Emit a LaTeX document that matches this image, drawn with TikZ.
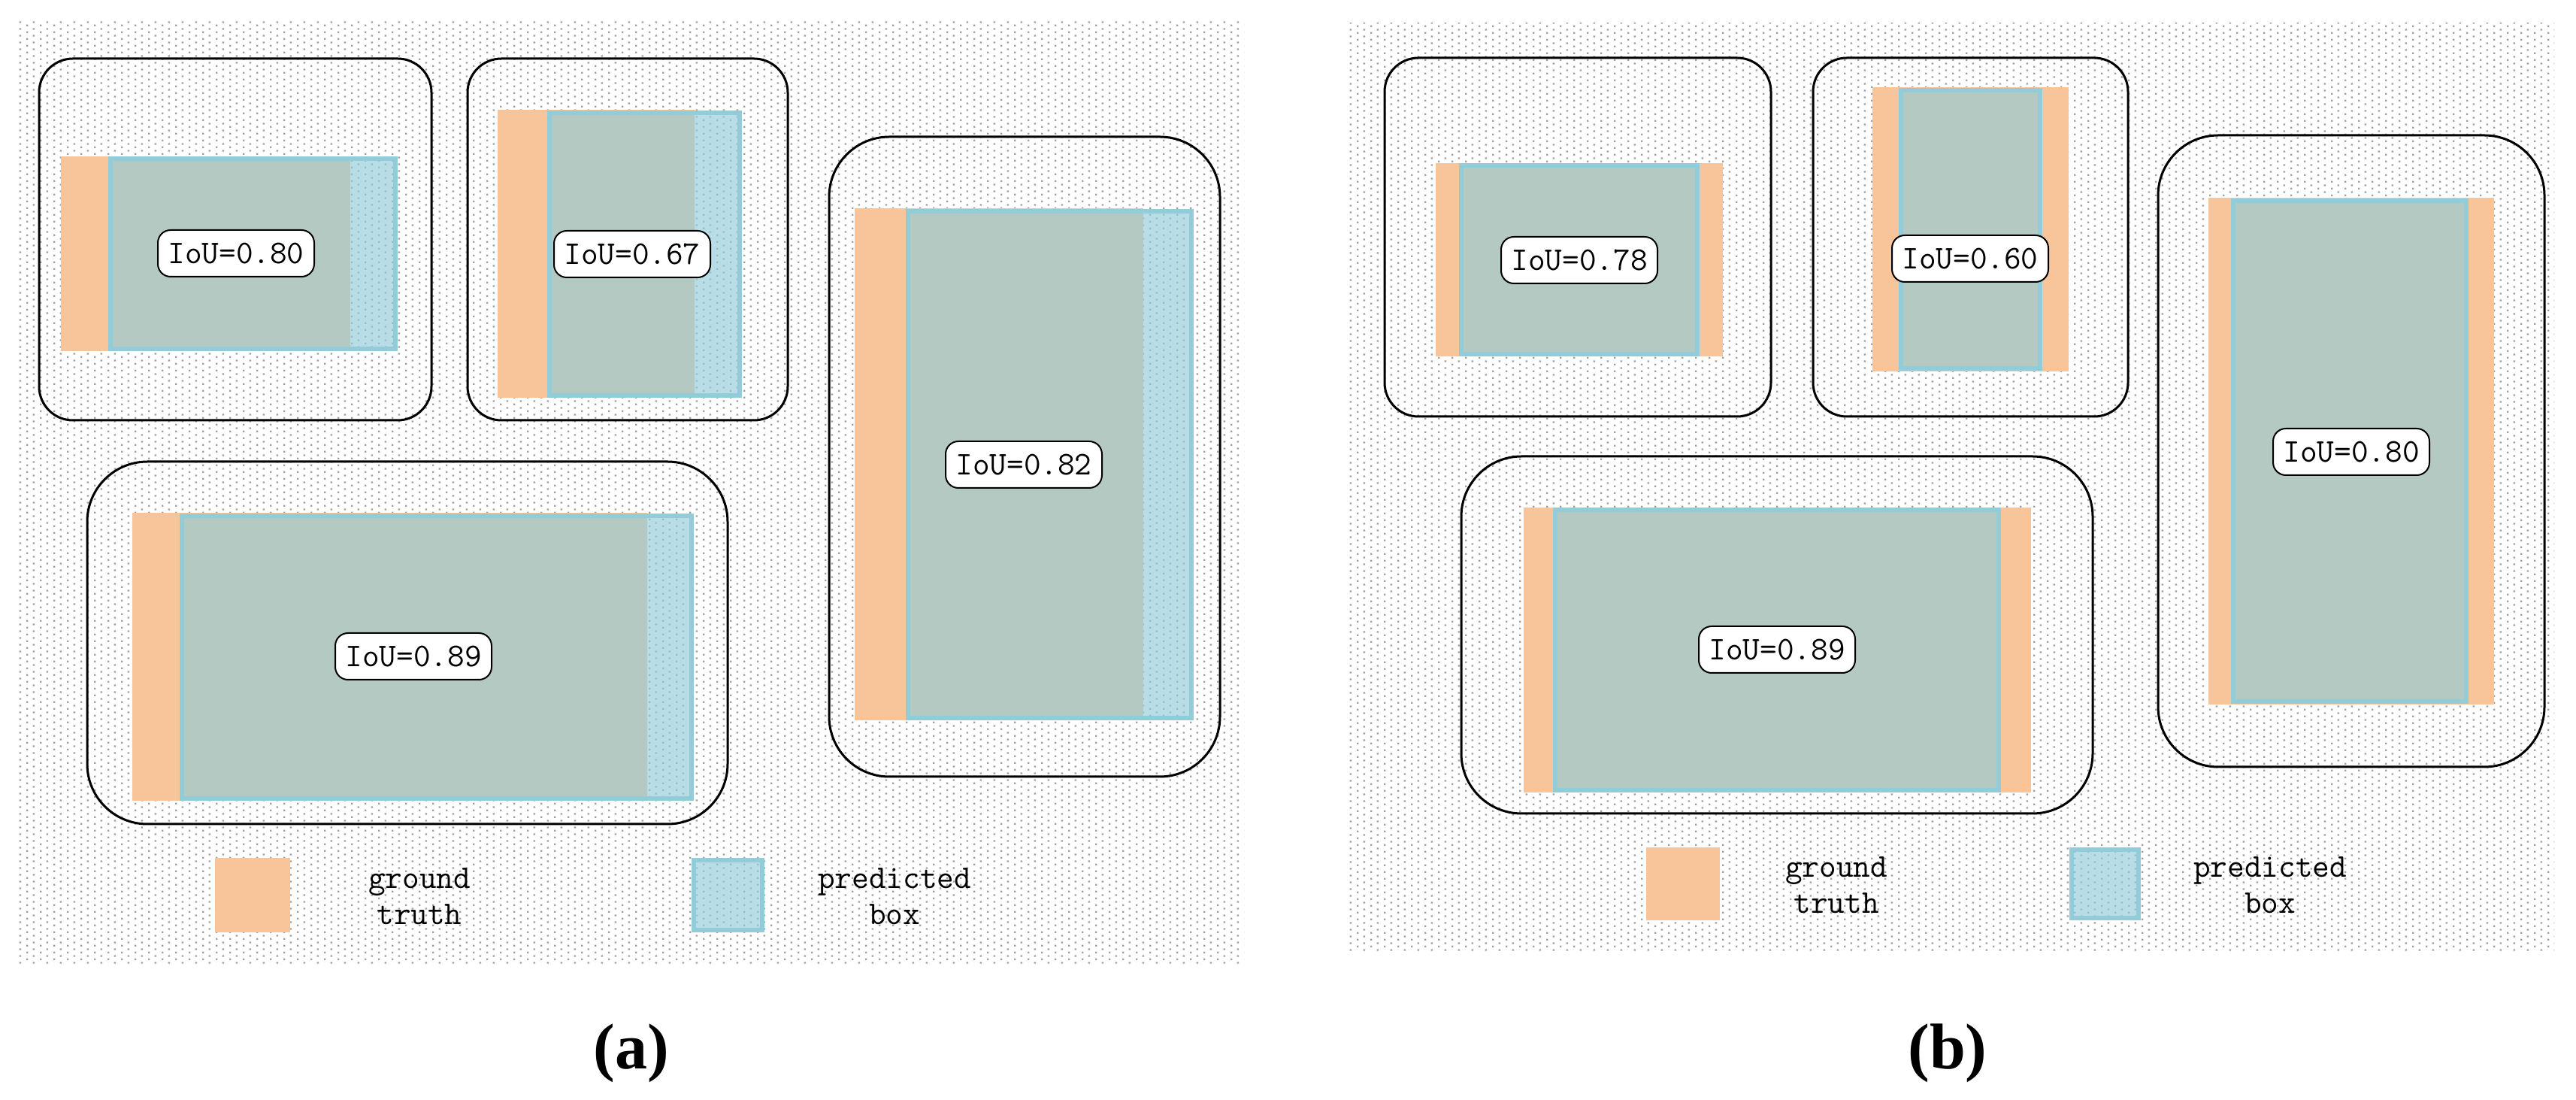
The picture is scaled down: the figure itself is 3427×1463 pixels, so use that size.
\documentclass[tikz,border=0pt]{standalone}
\usepackage{fontspec}
\usetikzlibrary{patterns.meta}
\newfontfamily\capfont{Liberation Serif}
\newcommand\labfont{\ttfamily\addfontfeatures{FakeStretch=0.85}}
\definecolor{gtorange}{RGB}{248,197,154}
\definecolor{pdblue}{RGB}{146,204,217}
\definecolor{dotgray}{RGB}{160,160,160}
\tikzdeclarepattern{
  name=bgdots,
  type=colored,
  bounding box={(0pt,0pt) and (4.425pt,2.2125pt)},
  tile size={(4.425pt,2.2125pt)},
  code={
    \fill[dotgray] (0pt,0pt) rectangle (0.6pt,0.6pt);
    \fill[dotgray] (2.2125pt,1.10625pt) rectangle (2.8125pt,1.70625pt);
  }
}
\tikzset{
  bgpanel/.style={pattern=bgdots},
  frame/.style={draw=black, line width=0.75pt, rounded corners=11.25pt},
  bigframe/.style={draw=black, line width=0.75pt, rounded corners=20pt},
  gtbox/.style={fill=gtorange},
  pdbox/.style={fill=pdblue, fill opacity=0.65, draw=pdblue, draw opacity=1, line width=1.5pt},
  ioulabel/.style={draw=black, fill=white, line width=0.5pt, rounded corners=4.25pt,
    minimum width=52pt, minimum height=15.5pt, inner sep=0pt,
    font=\labfont\fontsize{11}{12}\selectfont},
  legtext/.style={align=center, inner sep=0pt, font=\labfont\fontsize{11}{12}\selectfont},
  caption/.style={font=\capfont\bfseries\fontsize{21.5}{24}\selectfont}
}
\newcommand\pdrect[4]{\draw[pdbox] (#1+3,#2+3) rectangle (#3-3,#4-3);}
\newcommand\gtrect[4]{\fill[gtbox] (#1,#2) rectangle (#3,#4);}
\begin{document}
\begin{tikzpicture}[x=0.25pt, y=-0.25pt]
\fill[white] (0,0) rectangle (3427,1463);
\useasboundingbox (0,0) rectangle (3427,1463);
% ---------- panel (a) ----------
\fill[bgpanel] (25,27) rectangle (1655,1282);
\draw[frame] (52,78) rectangle (574,559);
\draw[frame] (622,78) rectangle (1048,559);
\draw[bigframe] (1103,182) rectangle (1623,1033);
\draw[bigframe] (116,614) rectangle (968,1096);
\gtrect{81}{208}{466}{467}
\pdrect{144}{208}{529}{467}
\gtrect{662}{146}{924}{529}
\pdrect{728}{147}{987}{529}
\gtrect{1137}{277}{1521}{958}
\pdrect{1205}{278}{1588}{958}
\gtrect{176}{682}{861}{1065}
\pdrect{239}{683}{923}{1065}
\node[ioulabel] (a1) at (314,337) {IoU=0.80};
\node[ioulabel] (a2) at (841,338) {IoU=0.67};
\node[ioulabel] (a3) at (1362,618) {IoU=0.82};
\node[ioulabel] (a4) at (550,873) {IoU=0.89};
\gtrect{286}{1141}{386}{1240}
\pdrect{920}{1141}{1017}{1240}
\node[legtext] (agt) at (558,1192) {ground\\truth};
\node[legtext] (apd) at (1190,1192) {predicted\\box};
\node[caption] (capa) at (840,1401) {(a)};
% ---------- panel (b) ----------
\fill[bgpanel] (1792,31) rectangle (3398,1265);
\draw[frame] (1842,77) rectangle (2356,554);
\draw[frame] (2412,77) rectangle (2831,554);
\draw[bigframe] (2871,180) rectangle (3385,1020);
\draw[bigframe] (1944,607) rectangle (2784,1082);
\gtrect{1910}{217}{2292}{474}
\pdrect{1941}{217}{2261}{474}
\gtrect{2491}{116}{2752}{494}
\pdrect{2526}{117}{2717}{493}
\gtrect{2938}{263}{3318}{937}
\pdrect{2968}{264}{3284}{936}
\gtrect{2027}{675}{2702}{1054}
\pdrect{2066}{675}{2662}{1054}
\node[ioulabel] (b1) at (2101,346) {IoU=0.78};
\node[ioulabel] (b2) at (2621,344) {IoU=0.60};
\node[ioulabel] (b3) at (3128,601) {IoU=0.80};
\node[ioulabel] (b4) at (2364,864) {IoU=0.89};
\gtrect{2190}{1127}{2288}{1224}
\pdrect{2753}{1127}{2848}{1224}
\node[legtext] (bgt) at (2443,1177) {ground\\truth};
\node[legtext] (bpd) at (3020,1177) {predicted\\box};
\node[caption] (capb) at (2591,1401) {(b)};
\end{tikzpicture}
\end{document}
